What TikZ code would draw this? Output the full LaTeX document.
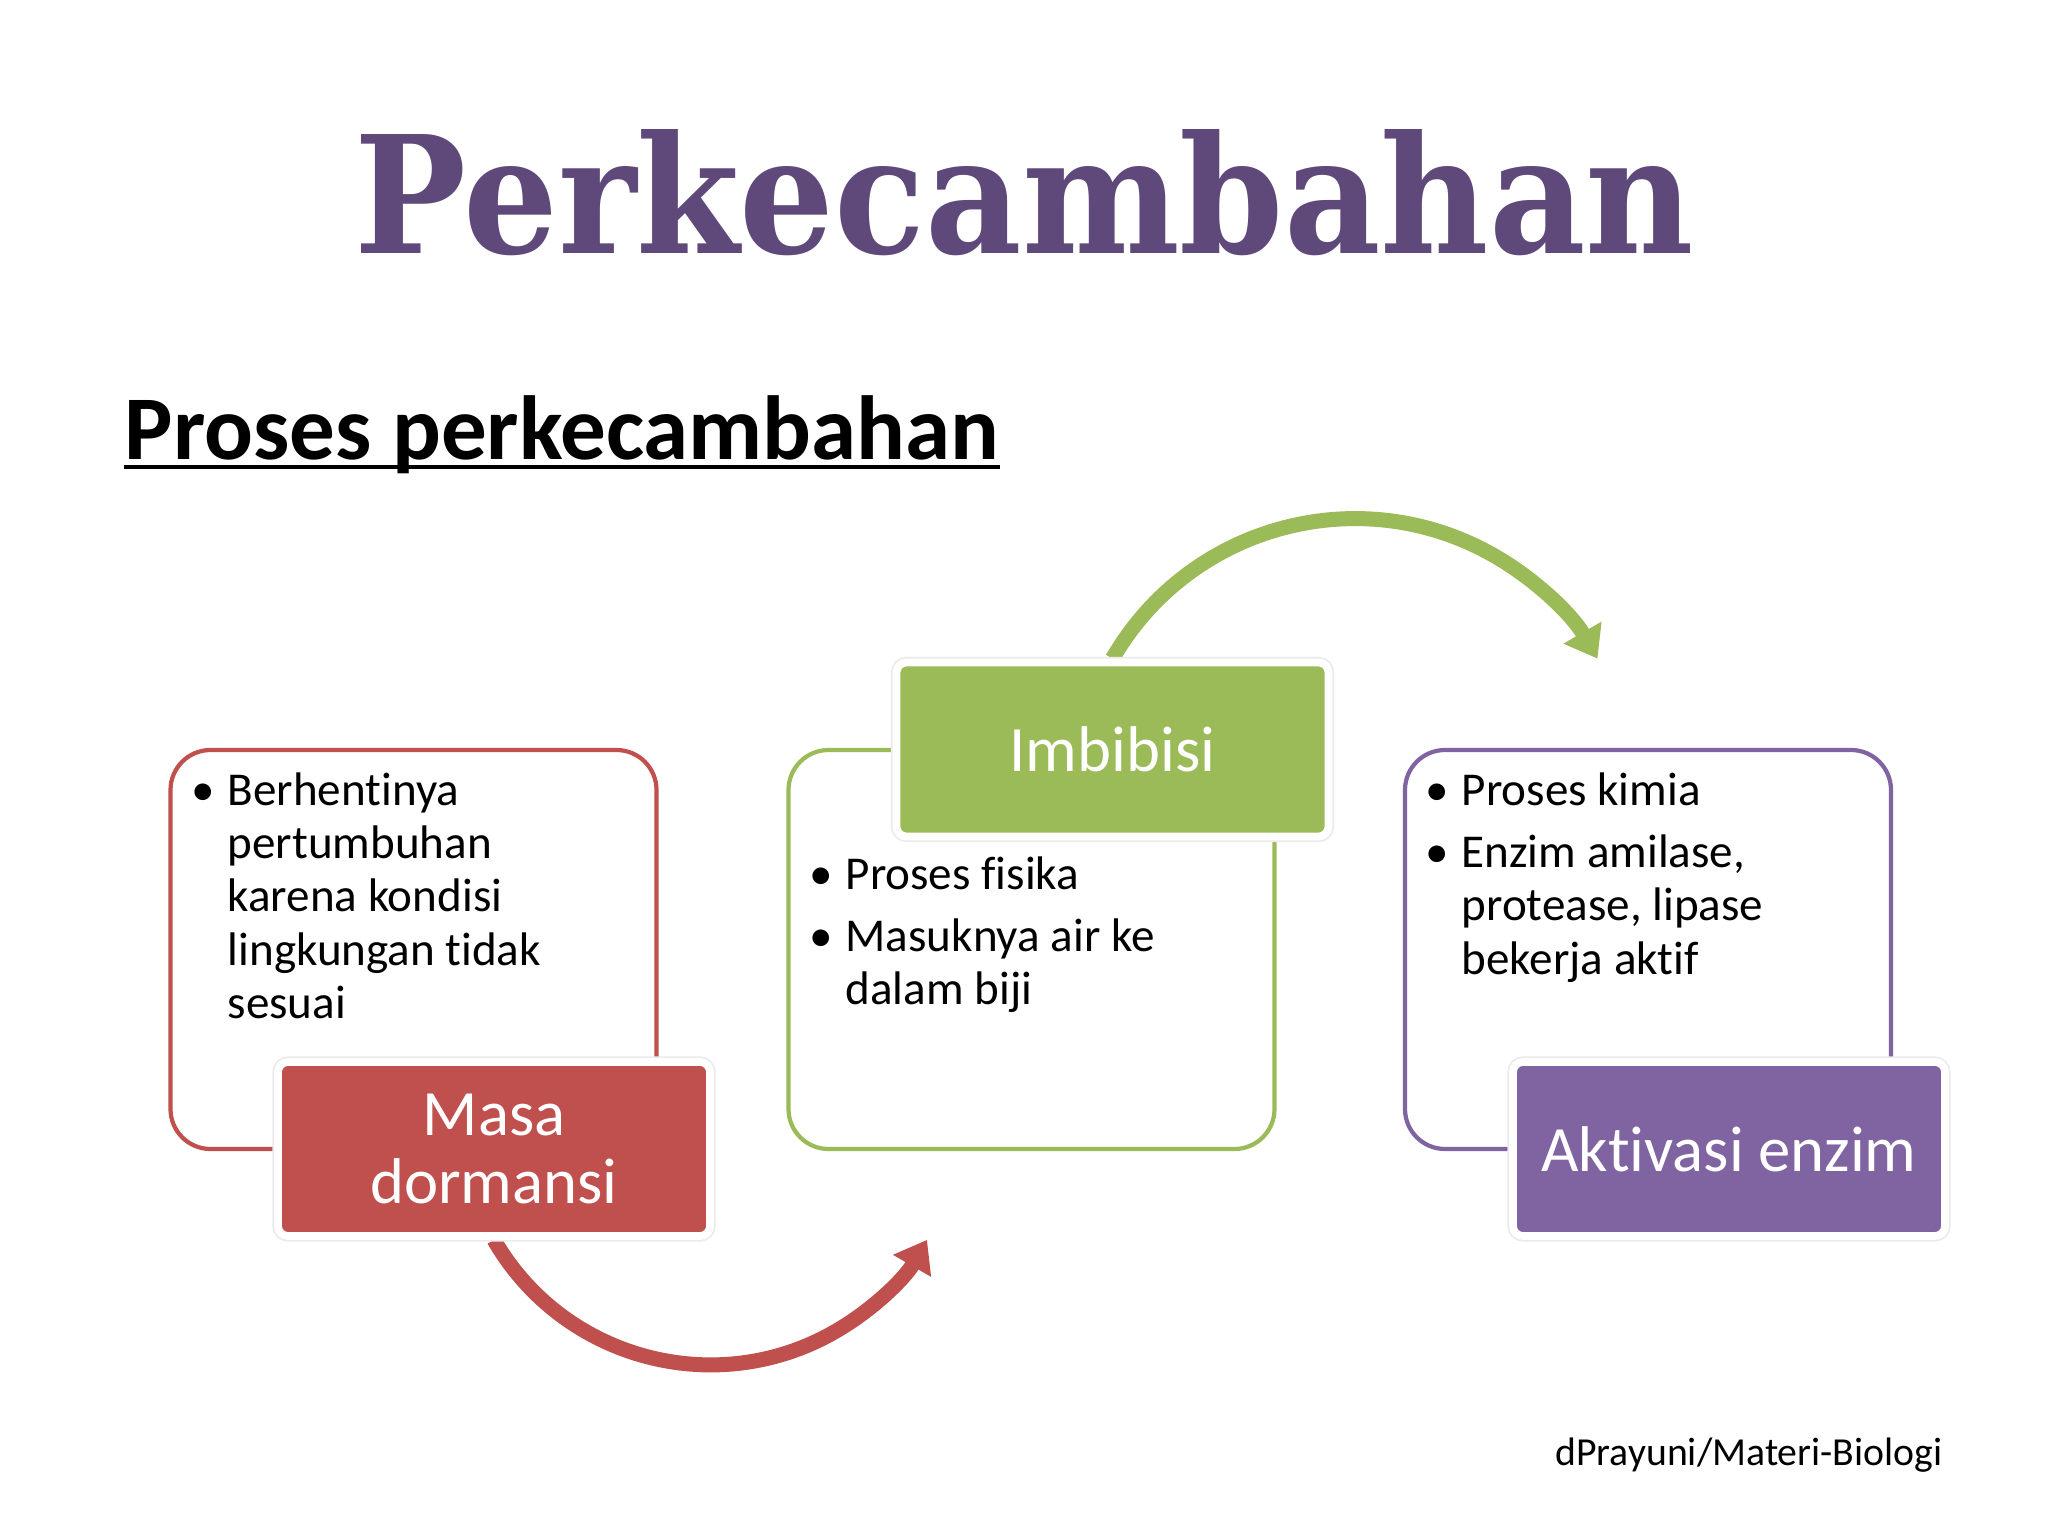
\documentclass[tikz,border=0pt]{standalone}
\usepackage{fontspec}
\usepackage{graphicx}
\setmainfont{Carlito}[RawFeature={-liga}]
\newfontfamily\titlefont{DejaVu Serif}
\usetikzlibrary{arrows.meta, positioning, backgrounds}
\definecolor{dormred}{HTML}{C0504D}
\definecolor{imbgreen}{HTML}{9BBB59}
\definecolor{enzpurple}{HTML}{8064A2}
\definecolor{titlepurple}{HTML}{5F497A}
\newcommand{\bitem}[1]{\par\noindent\hangindent=0.36cm\hangafter=1\makebox[0.36cm][l]{\textbullet}#1\par}
\newcommand{\bulletlist}[1]{\parbox[t]{4.3cm}{\raggedright\setlength{\parskip}{2.6pt}#1}}
\tikzset{
  outlinebox/.style={draw, line width=1.2pt, rounded corners=0.4cm, fill=white, minimum width=4.86cm, minimum height=3.99cm},
  labelbox/.style={rounded corners=0.1cm, minimum width=4.32cm, minimum height=1.74cm, align=center, text=white,
    font=\fontsize{18.4pt}{19.6pt}\selectfont, inner sep=0pt,
    preaction={draw=black!8, line width=3.2pt}, draw=white, line width=2.2pt},
  bodytext/.style={anchor=base west, inner sep=0pt, font=\fontsize{13.4pt}{15.2pt}\selectfont},
  cyclearrow/.style={line width=0.15cm, -{Triangle[width=0.42cm, length=0.3cm]}}
}

\begin{document}
\begin{tikzpicture}
  \useasboundingbox (0,0) rectangle (20.48,-15.36);

  % Title and subtitle
  \node[inner sep=0pt, text=titlepurple] (title) at (10.245,-1.925) {\resizebox{13.39cm}{1.24cm}{\titlefont\bfseries Perkecambahan}};
  \node[anchor=base west, inner sep=0pt, font=\bfseries\fontsize{25.9pt}{30pt}\selectfont] (subtitle) at (1.24,-4.60) {Proses perkecambahan};
  \draw[line width=1.1pt] ([yshift=-0.07cm]subtitle.base west) -- ([yshift=-0.07cm]subtitle.base east);

  % Outline boxes
  \node[outlinebox, draw=dormred] (dormansibox) at (4.135,-9.495) {};
  \node[outlinebox, draw=imbgreen] (imbibisibox) at (10.315,-9.495) {};
  \node[outlinebox, draw=enzpurple] (enzimbox) at (16.48,-9.495) {};

  % Stage labels
  \node[labelbox, fill=dormred] (dormansi) at (4.94,-11.49) {Masa\\dormansi};
  \node[labelbox, fill=imbgreen] (imbibisi) at (11.125,-7.495) {Imbibisi};
  \node[labelbox, fill=enzpurple] (enzim) at (17.29,-11.49) {Aktivasi enzim};

  % Bullet texts
  \node[bodytext] (dormansitext) at (1.91,-8.05) {\bulletlist{\bitem{Berhentinya\newline pertumbuhan\newline karena kondisi\newline lingkungan tidak\newline sesuai}}};
  \node[bodytext] (imbibisitext) at (8.09,-8.89) {\bulletlist{\bitem{Proses fisika}\bitem{Masuknya air ke\newline dalam biji}}};
  \node[bodytext] (enzimtext) at (14.25,-8.05) {\bulletlist{\bitem{Proses kimia}\bitem{Enzim amilase,\newline protease, lipase\newline bekerja aktif}}};

  % Credit
  \node[anchor=base east, inner sep=0pt, font=\fontsize{11.3pt}{13pt}\selectfont] (credit) at (19.43,-14.65) {dPrayuni/Materi-Biologi};

  % Cycle arrows behind the labels
  \begin{pgfonlayer}{background}
    \fill[white] (0,0) rectangle (20.48,-15.36);
    \draw[cyclearrow, dormred] (dormansi.south) arc[start angle=210, end angle=330, radius=2.5];
    \draw[cyclearrow, imbgreen] (imbibisi.north) arc[start angle=150, end angle=30, radius=2.8];
  \end{pgfonlayer}
\end{tikzpicture}
\end{document}
